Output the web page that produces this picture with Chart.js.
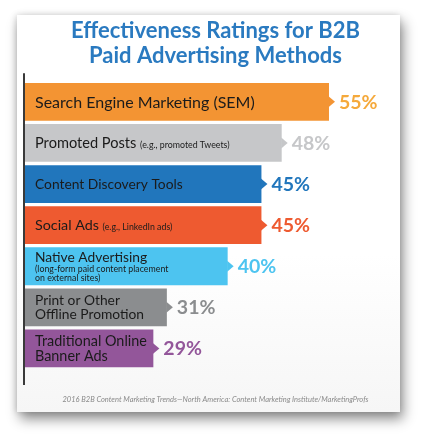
<!DOCTYPE html>
<html><head><meta charset="utf-8">
<script src="https://cdn.jsdelivr.net/npm/chart.js@4"></script>
<style>
html,body{margin:0;padding:0;background:#fff;}
#wrap{position:relative;width:431px;height:443px;overflow:hidden;}
#card{position:absolute;left:17px;top:15px;width:383px;height:397px;background:linear-gradient(180deg,#ffffff 60%,#f6f6f6 100%);box-shadow:3px 7px 12px rgba(0,0,0,0.45),-1px 0 6px rgba(0,0,0,0.15);}
#c{position:absolute;left:0;top:0;}
</style></head>
<body><div id="wrap"><div id="card"></div><canvas id="c" width="431" height="443"></canvas></div>
<script>
const categories = [
  ["Search Engine Marketing (SEM)"],
  ["Promoted Posts"],
  ["Content Discovery Tools"],
  ["Social Ads"],
  ["Native Advertising"],
  ["Print or Other", "Offline Promotion"],
  ["Traditional Online", "Banner Ads"]
];
const inlineNotes = ["", "(e.g., promoted Tweets)", "", "(e.g., LinkedIn ads)", "", "", ""];
const belowNotes = [[], [], [], [], ["(long-form paid content placement", "on external sites)"], [], []];
const values = [55, 48, 45, 45, 40, 31, 29];
const barColors = ["#F39433", "#C6C7C9", "#2176BC", "#EE5A30", "#4DC4F0", "#8B8D8F", "#93569A"];
const valueColors = ["#F5A93B", "#C6C7C9", "#2176BC", "#EE5A30", "#4DC4F0", "#8B8D8F", "#93569A"];
const titleLines = ["Effectiveness Ratings for B2B", "Paid Advertising Methods"];
const sourceText = "2016 B2B Content Marketing Trends\u2014North America: Content Marketing Institute/MarketingProfs";

const FONT = "Lato, 'Open Sans', sans-serif";

const decor = {
  id: 'decor',
  afterDatasetsDraw(chart, args, opts) {
    const ctx = chart.ctx;
    const area = chart.chartArea;
    const meta = chart.getDatasetMeta(0);
    const sizes = opts.labelSizes;
    ctx.save();
    // axis line
    ctx.strokeStyle = '#3a3a3a';
    ctx.lineWidth = 2;
    ctx.beginPath();
    ctx.moveTo(area.left - 1, area.top - 8);
    ctx.lineTo(area.left - 1, area.bottom + 16);
    ctx.stroke();
    meta.data.forEach((bar, i) => {
      const cy = bar.y;
      const xr = bar.x;
      // arrow notch
      ctx.fillStyle = barColors[i];
      ctx.beginPath();
      ctx.moveTo(xr - 0.5, cy - 5.5);
      ctx.lineTo(xr + 6, cy);
      ctx.lineTo(xr - 0.5, cy + 5.5);
      ctx.closePath();
      ctx.fill();
      // value label
      ctx.fillStyle = valueColors[i];
      ctx.font = "bold 19.5px " + FONT;
      ctx.textAlign = 'left';
      ctx.textBaseline = 'alphabetic';
      ctx.fillText(values[i] + '%', xr + 10, cy + 7);
      // category label
      const main = categories[i];
      const notes = belowNotes[i];
      const fs = sizes[i];
      const cap = fs * 0.72;
      const lh = fs + 0.5;
      let height = cap + (main.length - 1) * lh + (notes.length ? 10.5 + (notes.length - 1) * 8.5 : 0);
      let y = cy - height / 2 + cap;
      const x = area.left + 10;
      ctx.fillStyle = '#1b1b1b';
      main.forEach((line, k) => {
        ctx.font = fs + "px " + FONT;
        ctx.fillText(line, x, y);
        if (k === main.length - 1 && inlineNotes[i]) {
          const w = ctx.measureText(line + ' ').width;
          ctx.font = "8.8px " + FONT;
          ctx.fillText(inlineNotes[i], x + w, y);
        }
        if (k < main.length - 1) y += lh;
      });
      notes.forEach((line, k) => {
        y += (k === 0) ? 10.5 : 8.5;
        ctx.font = "8.8px " + FONT;
        ctx.fillText(line, x, y);
      });
    });
    ctx.restore();
  }
};

new Chart(document.getElementById('c'), {
  type: 'bar',
  data: {
    labels: categories,
    datasets: [{
      data: values,
      backgroundColor: barColors,
      borderWidth: 0,
      barPercentage: 0.92,
      categoryPercentage: 1.0
    }]
  },
  options: {
    indexAxis: 'y',
    responsive: false,
    animation: false,
    devicePixelRatio: 1,
    layout: { padding: { left: 25, right: 25, top: 0, bottom: 39 } },
    scales: {
      x: { display: false, min: 10, max: 66.4 },
      y: { display: false }
    },
    plugins: {
      legend: { display: false },
      tooltip: { enabled: false },
      decor: { labelSizes: [16, 14.6, 13.8, 14.3, 13.8, 13.8, 14.4] },
      title: {
        display: true,
        text: titleLines,
        color: '#2A7AC0',
        font: { family: FONT, size: 22, weight: 'bold', lineHeight: 1.12 },
        padding: { top: 19, bottom: 13 }
      },
      subtitle: {
        display: true,
        position: 'bottom',
        text: sourceText,
        color: '#8a8a8a',
        font: { family: FONT, size: 7.5, style: 'italic', lineHeight: 1.2 },
        padding: { top: 26, bottom: 0 }
      }
    }
  },
  plugins: [decor]
});
</script></body></html>
